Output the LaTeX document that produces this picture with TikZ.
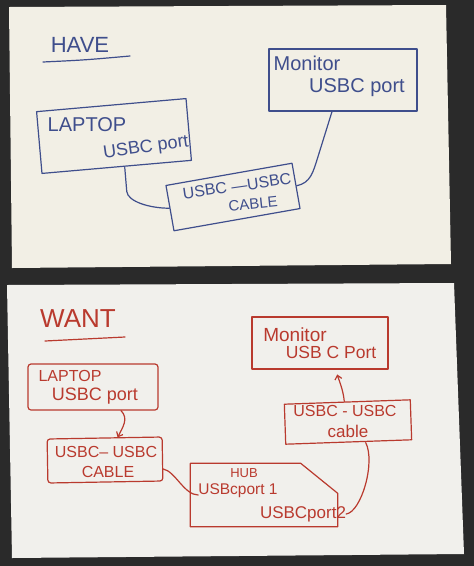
\documentclass[tikz,border=0pt]{standalone}
\usepackage{fontspec}
\setmainfont{Liberation Sans}
\usetikzlibrary{arrows.meta,calc}
\definecolor{bgc}{HTML}{2A2A2A}
\definecolor{cardA}{HTML}{F2EFE5}
\definecolor{cardB}{HTML}{F1F0EC}
\definecolor{blueink}{HTML}{3F4E8C}
\definecolor{redink}{HTML}{B93A2E}
\begin{document}
\begin{tikzpicture}[x=1pt,y=-1pt,
  ink/.style={line width=1.2pt, line cap=round, line join=round},
  bink/.style={ink, draw=blueink},
  rink/.style={ink, draw=redink},
  box/.style={rectangle, inner sep=0pt},
  lbl/.style={inner sep=0pt, font=\fontsize{#1}{#1}\selectfont},
  arr/.style={-{Straight Barb[length=4pt,width=7pt]}}
]
\fill[bgc] (0,0) rectangle (474,566);
\useasboundingbox (0,0) rectangle (474,566);
% cards
\fill[cardA] (9,7) -- (446,5) -- (451,264) -- (12,268) -- cycle;
\fill[cardB] (7,285) -- (454,283) -- (464,554) -- (12,558) -- cycle;

% ---------- HAVE ----------
\node[lbl=22, text=blueink] (have) at (80,45) {HAVE};
\draw[bink] (43,62) .. controls (85,60) .. (130,56);

\node[box, bink, draw, minimum width=148pt, minimum height=62pt] (M1) at (343,80) {};
\node[lbl=20, text=blueink] (m1a) at (307,63) {Monitor};
\node[lbl=20, text=blueink] (m1b) at (357,88) {USBC port};

\node[box, bink, draw, minimum width=150pt, minimum height=62pt, rotate=5] (L1) at (114,136) {};
\node[lbl=20, text=blueink] (l1a) at (87,125) {LAPTOP};
\node[lbl=18, text=blueink, rotate=8] (l1b) at (146,148) {USBC port};

\node[box, bink, draw, minimum width=128pt, minimum height=46pt, rotate=10] (C1) at (233,197) {};
\node[lbl=16, text=blueink, rotate=8] (c1a) at (237,186) {USBC —USBC};
\node[lbl=15, text=blueink, rotate=6] (c1b) at (253,204) {CABLE};

\draw[bink] ([xshift=8pt]L1.south) -- ++(2,24) .. controls +(1,10) and +(-20,0) .. (C1.west);
\draw[bink] (C1.east) .. controls +(14,-3) and +(-5,16) .. ($([xshift=-11pt]M1.south)+(-14,45)$) -- ([xshift=-11pt]M1.south);

% ---------- WANT ----------
\node[lbl=26, text=redink] (want) at (78,319) {WANT};
\draw[rink] (45,341) -- (125,337);

\node[box, rink, draw, minimum width=130pt, minimum height=46pt, rounded corners=3pt] (L2) at (93,387) {};
\node[lbl=16, text=redink] (l2a) at (70,376) {LAPTOP};
\node[lbl=18, text=redink] (l2b) at (95,396) {USBC port};

\node[box, rink, draw, minimum width=115pt, minimum height=44pt, rotate=1, rounded corners=3pt] (C2) at (105,460) {};
\node[lbl=16, text=redink] (c2a) at (106,452) {USBC– USBC};
\node[lbl=16, text=redink] (c2b) at (108,472) {CABLE};

\node[box, minimum width=147pt, minimum height=63pt] (hub) at (264,495) {};
\draw[rink] (hub.north west) -- ([xshift=-37pt]hub.north east) -- ([yshift=-30pt]hub.north east) -- (hub.south east) -- (hub.south west) -- cycle;
\node[lbl=13, text=redink] (hubt) at (244,473) {HUB};
\node[lbl=15.5, text=redink] (p1) at (238,491) {USBcport 1};
\node[lbl=17, text=redink] (p2) at (303,514) {USBCport2};

\node[box, rink, draw, minimum width=136pt, minimum height=52pt] (M2) at (320,343) {};
\node[lbl=19, text=redink] (m2a) at (295,335) {Monitor};
\node[lbl=17.5, text=redink] (m2b) at (331,352) {USB C Port};

\node[box, rink, draw, minimum width=126pt, minimum height=40pt, rotate=2] (C3) at (348,422) {};
\node[lbl=16, text=redink] (c3a) at (345,411) {USBC - USBC};
\node[lbl=17, text=redink] (c3b) at (348,431) {cable};

\draw[rink, arr] ([xshift=28pt]L2.south) .. controls +(8,8) and +(5,-10) .. ([xshift=13pt]C2.north);
\draw[rink] ([yshift=-10pt]C2.east) .. controls +(12,2) and +(-14,0) .. ([yshift=-4pt]p1.west);
\draw[rink] (p2.east) .. controls +(15,-2) and +(10,20) .. ([xshift=17pt]C3.south);
\draw[rink, arr, shorten >=5pt] ([xshift=-3pt]C3.north) .. controls +(-1,-12) and +(2,8) .. ([xshift=16pt]M2.south);
\end{tikzpicture}
\end{document}
